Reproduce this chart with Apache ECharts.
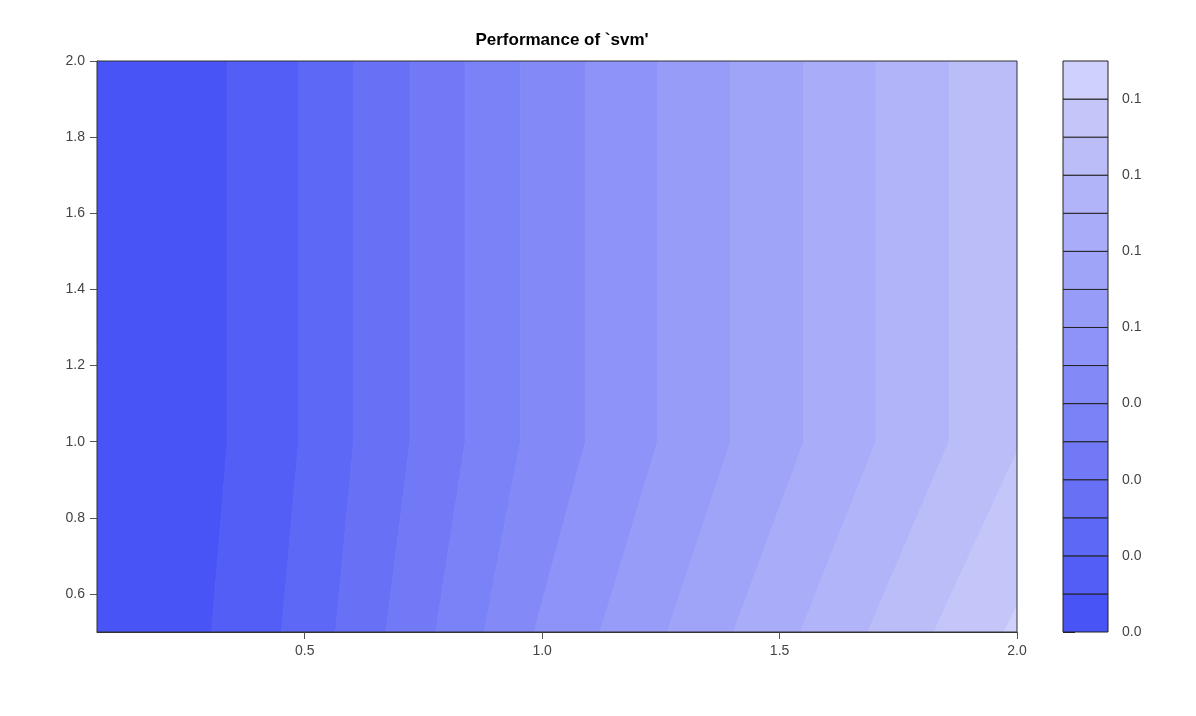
<!DOCTYPE html>
<html><head><meta charset="utf-8">
<script src="https://cdn.jsdelivr.net/npm/echarts@6/dist/echarts.min.js"></script>
<style>html,body{margin:0;padding:0;background:#fff}#c{width:1196px;height:716px}</style>
</head><body><div id="c"></div>
<script>
// contour band boundaries (x value) at y=2.0 and y=1.0 (same), and at y=0.5
const xMin = 0.0625, xMax = 2.0, yMin = 0.5, yMax = 2.0, yKink = 1.0;
const boundaryTop = [0.337, 0.487, 0.603, 0.722, 0.838, 0.954, 1.091, 1.243, 1.397, 1.551, 1.703, 1.857, 2.01, 2.17];
const boundaryBottom = [0.304, 0.451, 0.565, 0.671, 0.776, 0.878, 0.983, 1.122, 1.264, 1.403, 1.544, 1.686, 1.825, 1.973];
const levelColors = ['#4854f5','#525ef6','#5d68f6','#6871f6','#7279f6','#7a82f7','#838af7','#8d93f8','#979cf8','#a0a4f8','#a9acf8','#b2b4f9','#bbbdf9','#c4c6fa','#cfd0fb'];
const legendTickLabels = ['0.0','0.0','0.0','0.0','0.1','0.1','0.1','0.1'];
const xTicks = [0.5, 1.0, 1.5, 2.0];
const yTicks = [0.6, 0.8, 1.0, 1.2, 1.4, 1.6, 1.8, 2.0];

const lefts = [xMin].concat(boundaryTop);
const leftsB = [xMin].concat(boundaryBottom);
const rights = boundaryTop.concat([3]);
const rightsB = boundaryBottom.concat([3]);
const bands = levelColors.map((c, i) => [i, lefts[i], leftsB[i], rights[i], rightsB[i]]);
const legendData = levelColors.map((c, i) => [i]);

const chart = echarts.init(document.getElementById('c'));
const axisLine = {show: true, lineStyle: {color: '#333', width: 1}};
chart.setOption({
  animation: false,
  title: {text: "Performance of `svm'", left: 557, top: 27, textAlign: 'center',
    textStyle: {fontFamily: 'Liberation Sans', fontWeight: 'bold', fontSize: 17, color: '#000'}},
  grid: [
    {left: 97, top: 61, right: 179, bottom: 84, show: true, borderColor: '#333', borderWidth: 1, z: 10, backgroundColor: 'transparent'},
    {left: 1063, top: 61, width: 45, bottom: 84}
  ],
  xAxis: [
    {type: 'value', gridIndex: 0, min: xMin, max: xMax, splitLine: {show: false}, axisLine: axisLine,
      axisTick: {show: true, length: 7, lineStyle: {color: '#555'}, customValues: xTicks},
      axisLabel: {customValues: xTicks, formatter: v => v.toFixed(1), color: '#444', fontSize: 14, margin: 12, fontFamily: 'Liberation Sans'}},
    {type: 'value', gridIndex: 1, min: 0, max: 1, show: false}
  ],
  yAxis: [
    {type: 'value', gridIndex: 0, min: yMin, max: yMax, splitLine: {show: false}, axisLine: axisLine,
      axisTick: {show: true, length: 7, lineStyle: {color: '#555'}, customValues: yTicks},
      axisLabel: {customValues: yTicks, formatter: v => v.toFixed(1), color: '#444', fontSize: 14, margin: 12, fontFamily: 'Liberation Sans'}},
    {type: 'value', gridIndex: 1, min: 0, max: 15, position: 'right', splitLine: {show: false},
      axisLine: {show: false},
      axisTick: {show: true, length: 12, inside: false, lineStyle: {color: '#222'}, customValues: [0,2,4,6,8,10,12,14]},
      axisLabel: {customValues: [0,2,4,6,8,10,12,14], formatter: (v) => legendTickLabels[v/2], color: '#444', fontSize: 14, margin: 14, fontFamily: 'Liberation Sans'}}
  ],
  series: [
    {type: 'custom', xAxisIndex: 0, yAxisIndex: 0, clip: true, data: bands,
      renderItem: (params, api) => {
        const pts = [
          api.coord([api.value(1), yMax]), api.coord([api.value(1), yKink]), api.coord([api.value(2), yMin]),
          api.coord([api.value(4), yMin]), api.coord([api.value(3), yKink]), api.coord([api.value(3), yMax])
        ];
        const col = levelColors[api.value(0)];
        return {type: 'polygon', shape: {points: pts}, style: {fill: col, stroke: col, lineWidth: 0.8}};
      }},
    {type: 'custom', xAxisIndex: 1, yAxisIndex: 1, data: legendData,
      renderItem: (params, api) => {
        const i = api.value(0);
        const p0 = api.coord([0, i]), p1 = api.coord([1, i + 1]);
        return {type: 'rect', shape: {x: p0[0], y: p1[1], width: p1[0] - p0[0], height: p0[1] - p1[1]},
          style: {fill: levelColors[i], stroke: '#222', lineWidth: 1}};
      }}
  ]
});
</script></body></html>
